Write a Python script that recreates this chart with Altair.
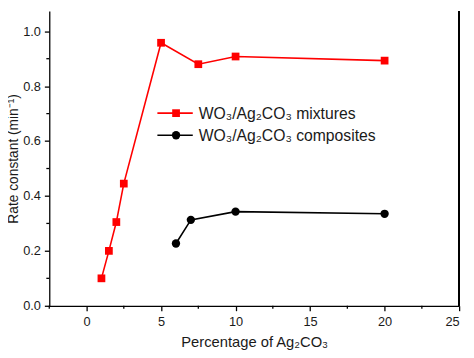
import altair as alt
import pandas as pd

MIX = "WO₃/Ag₂CO₃ mixtures"
COMP = "WO₃/Ag₂CO₃ composites"

mix_x = [1, 1.5, 2, 2.5, 5, 7.5, 10, 20]
mix_y = [0.100, 0.200, 0.305, 0.445, 0.958, 0.880, 0.908, 0.893]
comp_x = [6, 7, 10, 20]
comp_y = [0.227, 0.313, 0.343, 0.335]

x_major = [0, 5, 10, 15, 20, 25]
x_minor = [-2.5, 2.5, 7.5, 12.5, 17.5, 22.5]
y_major = [0.0, 0.2, 0.4, 0.6, 0.8, 1.0]
y_minor = [0.1, 0.3, 0.5, 0.7, 0.9]

df = pd.DataFrame({
    "x": mix_x + comp_x,
    "y": mix_y + comp_y,
    "series": [MIX] * len(mix_x) + [COMP] * len(comp_x),
})
xminor_df = pd.DataFrame({"x": x_minor})
yminor_df = pd.DataFrame({"y": y_minor})

FONT = "Liberation Sans"
W, H = 417, 300
RED, BLACK = "#ff0000", "#000000"

xscale = alt.Scale(domain=[-2.5, 25], nice=False, zero=False)
yscale = alt.Scale(domain=[0, 1.074], nice=False, zero=False)

common_axis = dict(domainColor="black", domainWidth=1.3, tickColor="black", tickWidth=1.3,
                   labelFont=FONT, labelFontSize=13, labelColor="#1a1a1a",
                   titleFont=FONT, titleFontWeight="normal", titleColor="#1a1a1a",
                   grid=False)

x_axis = alt.Axis(values=x_major, tickSize=5, labelPadding=5, title="Percentage of Ag₂CO₃",
                  titlePadding=6, titleFontSize=15, orient="bottom", format="d", **common_axis)
y_axis = alt.Axis(values=y_major, tickSize=5, labelPadding=4, title="Rate constant (min⁻¹)",
                  titlePadding=2, titleFontSize=14, orient="left", format=".1f", **common_axis)

color_scale = alt.Scale(domain=[MIX, COMP], range=[RED, BLACK])
base = alt.Chart(df)

X = alt.X("x:Q", scale=xscale, axis=x_axis)
Y = alt.Y("y:Q", scale=yscale, axis=y_axis)

line = base.mark_line(strokeWidth=1.6).encode(
    x=X, y=Y, color=alt.Color("series:N", scale=color_scale, legend=None),
)
sq = base.transform_filter(alt.datum.series == MIX).mark_square(size=62, opacity=1).encode(
    x=X, y=Y, color=alt.Color("series:N", scale=color_scale, legend=None)
)
ci = base.transform_filter(alt.datum.series == COMP).mark_circle(size=72, opacity=1).encode(
    x=X, y=Y, color=alt.Color("series:N", scale=color_scale, legend=None)
)

# legend (inside the plot)
leg_mix = alt.Chart(pd.DataFrame({"label": [MIX]}))
leg_comp = alt.Chart(pd.DataFrame({"label": [COMP]}))
LX0, LX1, LM, LT = 110, 146, 129, 152
R1, R2 = 104, 126.5

legend_layers = [
    leg_mix.mark_rule(color=RED, strokeWidth=1.6).encode(x=alt.value(LX0), x2=alt.value(LX1), y=alt.value(R1)),
    leg_mix.mark_square(color=RED, size=62, opacity=1).encode(x=alt.value(LM), y=alt.value(R1)),
    leg_mix.mark_text(align="left", baseline="middle", font=FONT, fontSize=16, color="#1a1a1a", dy=1).encode(
        text="label:N", x=alt.value(LT), y=alt.value(R1)),
    leg_comp.mark_rule(color=BLACK, strokeWidth=1.6).encode(x=alt.value(LX0), x2=alt.value(LX1), y=alt.value(R2)),
    leg_comp.mark_circle(color=BLACK, size=72, opacity=1).encode(x=alt.value(LM), y=alt.value(R2)),
    leg_comp.mark_text(align="left", baseline="middle", font=FONT, fontSize=16, color="#1a1a1a", dy=1).encode(
        text="label:N", x=alt.value(LT), y=alt.value(R2)),
]

x_minor_ticks = alt.Chart(xminor_df).mark_rule(color="black", strokeWidth=1.3).encode(
    x=alt.X("x:Q", scale=xscale, axis=x_axis), y=alt.value(H), y2=alt.value(H + 3)
)
y_minor_ticks = alt.Chart(yminor_df).mark_rule(color="black", strokeWidth=1.3).encode(
    y=alt.Y("y:Q", scale=yscale, axis=y_axis), x=alt.value(-3), x2=alt.value(0)
)
border = alt.Chart(df).mark_rule(color="black", strokeWidth=1.3).encode(
    x=alt.XDatum(25, type="quantitative", axis=x_axis),
    y=alt.value(0), y2=alt.value(H),
)

chart = alt.layer(line, sq, ci, x_minor_ticks, y_minor_ticks, border, *legend_layers).properties(
    width=W, height=H,
    autosize=alt.AutoSizeParams(type="none"),
    padding={"left": 42, "top": 0, "right": 7, "bottom": 42},
    background="white",
).configure_view(stroke=None)

chart.save("out.html", embed_options={"renderer": "svg", "actions": False})
